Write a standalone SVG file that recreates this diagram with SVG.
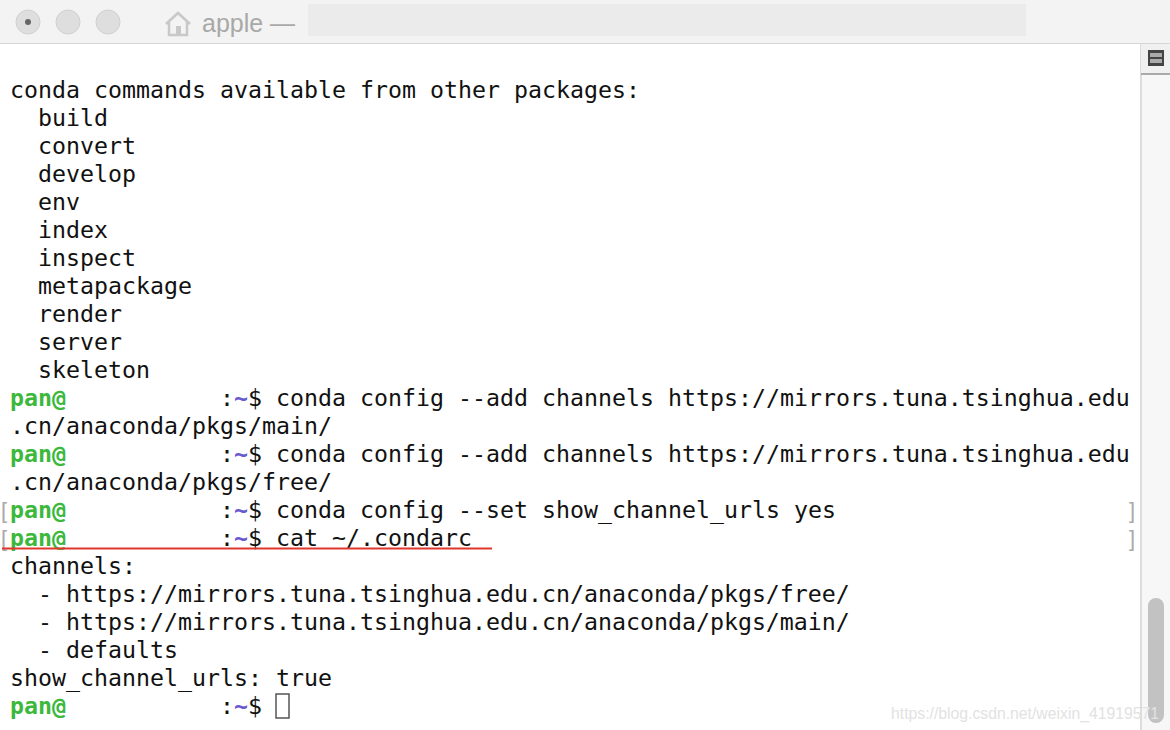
<svg xmlns="http://www.w3.org/2000/svg" width="1170" height="730" viewBox="0 0 1170 730">
<style>
.t{font-family:"DejaVu Sans Mono","Liberation Mono",monospace;font-size:23.25px;fill:#111;white-space:pre}
.g{fill:#3cb83c;font-weight:bold}
.p{fill:#6a5acd;font-weight:bold}
.b{fill:#aaa;font-family:"Liberation Sans",sans-serif;font-size:22px}
</style>
<rect width="1170" height="730" fill="#fff"/>
<g id="titlebar">
<rect width="1170" height="44" fill="#f3f3f3"/>
<line x1="0" y1="43.5" x2="1170" y2="43.5" stroke="#d6d6d6"/>
<circle cx="28" cy="22" r="12" fill="#dedede" stroke="#d0d0d0"/>
<circle cx="28" cy="22" r="3" fill="#666"/>
<circle cx="68" cy="22" r="12" fill="#dedede" stroke="#d0d0d0"/>
<circle cx="108" cy="22" r="12" fill="#dedede" stroke="#d0d0d0"/>
<path d="M166 24 L178 13 L190 24 M169 22 V35 H187 V22" fill="none" stroke="#c8c8c8" stroke-width="2.5"/>
<rect x="176" y="26" width="5" height="9" fill="#c8c8c8"/>
<text x="202" y="32" font-family="'Helvetica Neue','Liberation Sans',sans-serif" font-size="25" fill="#a8a8a8">apple —</text>
<rect x="308" y="4" width="718" height="32" fill="#ebebeb"/>
</g>
<g id="scrollbar">
<rect x="1140" y="44" width="30" height="686" fill="#f7f7f7"/>
<line x1="1141" y1="44" x2="1141" y2="730" stroke="#dcdcdc" stroke-width="2"/>
<rect x="1141" y="44" width="29" height="31" fill="#f0f0f0"/>
<line x1="1141" y1="74" x2="1170" y2="74" stroke="#aaa" stroke-width="2"/>
<rect x="1148" y="50" width="16" height="16" fill="#444"/>
<rect x="1150" y="53" width="12" height="4" fill="#aaa"/>
<rect x="1150" y="59" width="12" height="4" fill="#aaa"/>
<rect x="1148" y="598" width="16" height="125" rx="8" fill="#c2c2c2"/>
</g>
<g id="terminal">
<text class="t" x="10" y="98">conda commands available from other packages:</text>
<text class="t" x="10" y="126">  build</text>
<text class="t" x="10" y="154">  convert</text>
<text class="t" x="10" y="182">  develop</text>
<text class="t" x="10" y="210">  env</text>
<text class="t" x="10" y="238">  index</text>
<text class="t" x="10" y="266">  inspect</text>
<text class="t" x="10" y="294">  metapackage</text>
<text class="t" x="10" y="322">  render</text>
<text class="t" x="10" y="350">  server</text>
<text class="t" x="10" y="378">  skeleton</text>
<text class="t" x="10" y="406"><tspan class="g">pan@</tspan>           :<tspan class="p">~</tspan>$ conda config --add channels https://mirrors.tuna.tsinghua.edu</text>
<text class="t" x="10" y="434">.cn/anaconda/pkgs/main/</text>
<text class="t" x="10" y="462"><tspan class="g">pan@</tspan>           :<tspan class="p">~</tspan>$ conda config --add channels https://mirrors.tuna.tsinghua.edu</text>
<text class="t" x="10" y="490">.cn/anaconda/pkgs/free/</text>
<text class="b" x="1" y="518">[</text>
<text class="t" x="10" y="518"><tspan class="g">pan@</tspan>           :<tspan class="p">~</tspan>$ conda config --set show_channel_urls yes</text>
<text class="b" x="1129" y="518">]</text>
<text class="b" x="1" y="546">[</text>
<text class="t" x="10" y="546"><tspan class="g">pan@</tspan>           :<tspan class="p">~</tspan>$ cat ~/.condarc</text>
<text class="b" x="1129" y="546">]</text>
<line x1="2" y1="548.5" x2="492" y2="548.5" stroke="#e0362c" stroke-width="2"/>
<text class="t" x="10" y="574">channels:</text>
<text class="t" x="10" y="602">  - https://mirrors.tuna.tsinghua.edu.cn/anaconda/pkgs/free/</text>
<text class="t" x="10" y="630">  - https://mirrors.tuna.tsinghua.edu.cn/anaconda/pkgs/main/</text>
<text class="t" x="10" y="658">  - defaults</text>
<text class="t" x="10" y="686">show_channel_urls: true</text>
<text class="t" x="10" y="714"><tspan class="g">pan@</tspan>           :<tspan class="p">~</tspan>$</text>
<rect x="276" y="694" width="13" height="24" fill="none" stroke="#555" stroke-width="1.5"/>
</g>
<text x="891" y="719" font-family="'Liberation Sans',sans-serif" font-size="16" fill="#e2e2e2" textLength="268" lengthAdjust="spacingAndGlyphs">https://blog.csdn.net/weixin_41919571</text>
</svg>
